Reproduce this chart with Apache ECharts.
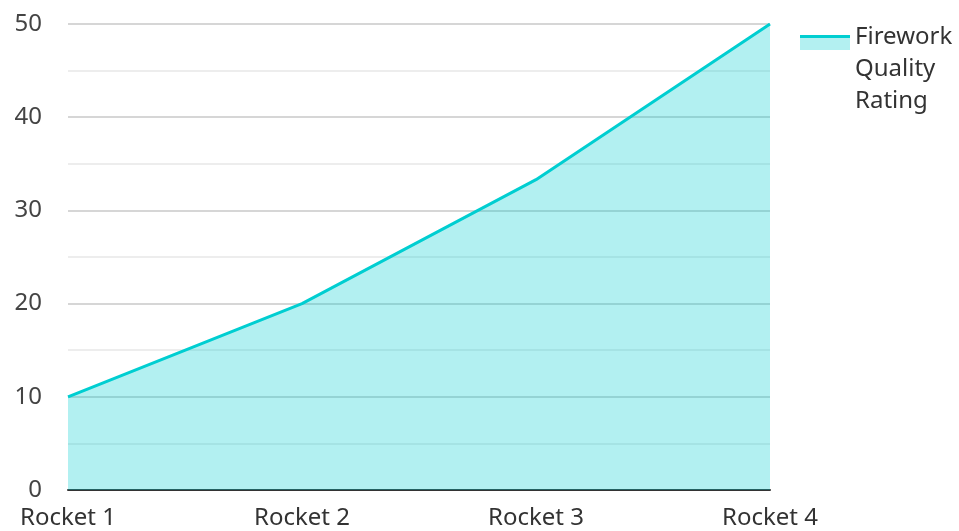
<!DOCTYPE html>
<html>
<head>
<meta charset="utf-8">
<script src="https://cdn.jsdelivr.net/npm/echarts@6/dist/echarts.min.js"></script>
<style>
html,body{margin:0;padding:0;background:#fff;}
#main{width:959px;height:531px;}
</style>
</head>
<body>
<div id="main"></div>
<script>
const categories = ['Rocket 1', 'Rocket 2', 'Rocket 3', 'Rocket 4'];
const seriesName = 'Firework Quality Rating';
const values = [10, 20, 33.3, 50];

const lineColor = '#00CED1';
const areaColor = '#B3F0F1';
const font = 'Noto Sans';

// Legend icon: 50x96 frame, swatch drawn near the first text line
const iconPath = 'path://M0,0L0.01,0L0.01,0.01ZM49.99,95.99L50,95.99L50,96ZM0,14L50,14L50,29L0,29Z';

const chart = echarts.init(document.getElementById('main'));
chart.setOption({
  animation: false,
  textStyle: { fontFamily: font },
  grid: { left: 68, right: 189, top: 24, bottom: 41, containLabel: false },
  legend: {
    orient: 'vertical',
    left: 795,
    top: 16,
    itemWidth: 50,
    itemHeight: 96,
    formatter: function (name) { return name.split(' ').join('\n'); },
    data: [{
      name: seriesName,
      icon: iconPath,
      itemStyle: {
        color: new echarts.graphic.LinearGradient(0, 0, 0, 1, [
          { offset: 0, color: lineColor },
          { offset: 17 / 96, color: lineColor },
          { offset: 17 / 96, color: areaColor },
          { offset: 1, color: areaColor }
        ])
      }
    }],
    textStyle: {
      fontFamily: font,
      fontSize: 24,
      color: '#333',
      lineHeight: 32
    }
  },
  xAxis: {
    type: 'category',
    data: categories,
    boundaryGap: false,
    axisLine: { lineStyle: { color: '#333', width: 2 } },
    axisTick: { show: false },
    axisLabel: { fontFamily: font, fontSize: 24, color: '#333', margin: 16 },
    splitLine: { show: false }
  },
  yAxis: {
    type: 'value',
    min: 0,
    max: 50,
    interval: 10,
    axisLine: { show: false },
    axisTick: { show: false },
    axisLabel: { fontFamily: font, fontSize: 24, color: '#444', margin: 26 },
    splitLine: { lineStyle: { color: '#c8c8c8', width: 1.5 } },
    minorTick: { show: false, splitNumber: 2 },
    minorSplitLine: { show: true, lineStyle: { color: '#e8e8e8', width: 1.5 } }
  },
  series: [{
    name: seriesName,
    type: 'line',
    data: values,
    showSymbol: false,
    symbol: 'none',
    lineStyle: { color: lineColor, width: 3 },
    itemStyle: { color: lineColor },
    areaStyle: { color: lineColor, opacity: 0.3 }
  }]
});
</script>
</body>
</html>
